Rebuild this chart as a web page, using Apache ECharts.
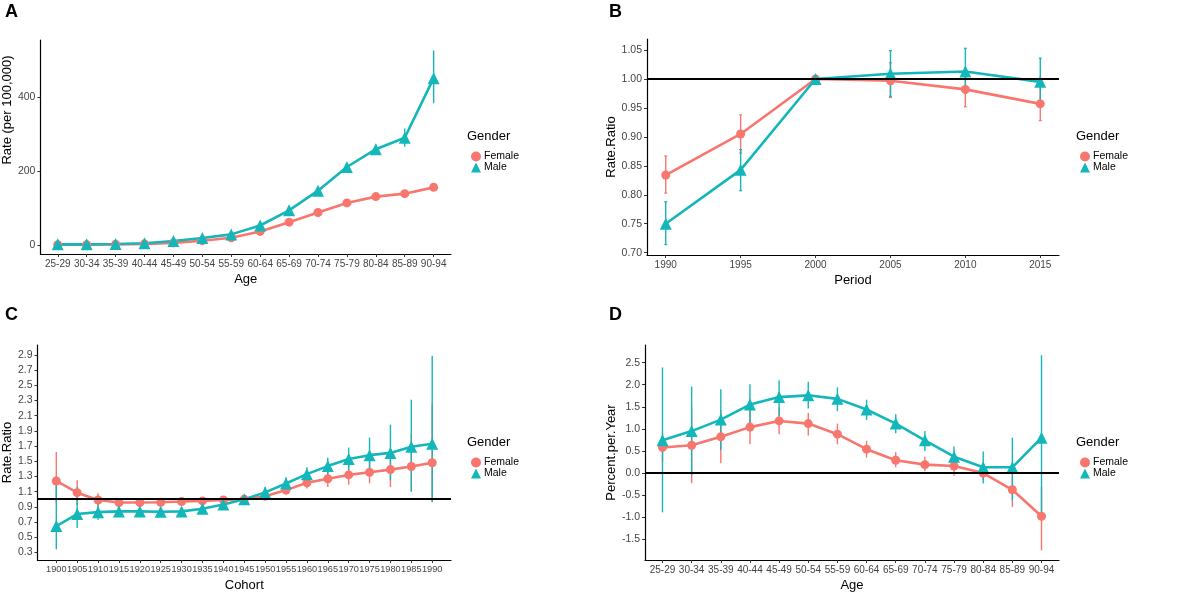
<!DOCTYPE html>
<html>
    <head>
        <meta charset=utf-8>
        <script src="https://cdn.jsdelivr.net/npm/echarts@6/dist/echarts.min.js"></script>
    </head>
    <body style="margin:0;background:#fff">
        <div id="chart" style="width:1200px;height:594px"></div>
        <script type="text/javascript">

            // A: age effect
            let ageLabels = ['25-29','30-34','35-39','40-44','45-49','50-54','55-59','60-64','65-69','70-74','75-79','80-84','85-89','90-94']
            let rateFemale   = [1, 1, 2, 3, 6, 12, 20, 37, 62, 88, 114, 131, 139, 156]
            let rateFemaleLo = [0, 0, 1, 2, 5, 10, 18, 34, 58, 83, 109, 125, 132, 147]
            let rateFemaleHi = [2, 2, 3, 4, 7, 14, 22, 40, 66, 93, 119, 137, 146, 165]
            let rateMale     = [2, 2, 3, 5, 11, 19, 29, 53, 94, 147, 211, 259, 290, 451]
            let rateMaleLo   = [1, 1, 2, 4, 9, 16, 26, 49, 88, 139, 201, 246, 266, 383]
            let rateMaleHi   = [3, 3, 4, 6, 13, 22, 32, 57, 100, 155, 221, 272, 315, 526]
            let rateTicks = [0, 200, 400]

            // B: period effect
            let periods = [1990, 1995, 2000, 2005, 2010, 2015]
            let prdFemale   = [0.834, 0.905, 1.0, 0.997, 0.982, 0.957]
            let prdFemaleLo = [0.803, 0.872, 1.0, 0.968, 0.952, 0.928]
            let prdFemaleHi = [0.867, 0.938, 1.0, 1.028, 1.012, 0.988]
            let prdMale     = [0.750, 0.843, 1.0, 1.009, 1.013, 0.995]
            let prdMaleLo   = [0.714, 0.807, 1.0, 0.970, 0.975, 0.955]
            let prdMaleHi   = [0.788, 0.878, 1.0, 1.049, 1.053, 1.036]
            let prdTicks = [0.70, 0.75, 0.80, 0.85, 0.90, 0.95, 1.00, 1.05]

            // C: cohort effect
            let cohorts = [1900,1905,1910,1915,1920,1925,1930,1935,1940,1945,1950,1955,1960,1965,1970,1975,1980,1985,1990]
            let cohFemale   = [1.24, 1.086, 0.99, 0.957, 0.957, 0.96, 0.97, 0.978, 0.99, 1.0, 1.04, 1.12, 1.216, 1.27, 1.32, 1.354, 1.39, 1.43, 1.48]
            let cohFemaleLo = [0.95, 0.93, 0.90, 0.92, 0.93, 0.93, 0.94, 0.95, 0.97, 1.0, 1.0, 1.06, 1.14, 1.16, 1.19, 1.21, 1.16, 1.10, 0.97]
            let cohFemaleHi = [1.62, 1.25, 1.08, 0.99, 0.99, 0.99, 1.0, 1.01, 1.01, 1.0, 1.08, 1.18, 1.31, 1.40, 1.47, 1.53, 1.67, 1.86, 2.25]
            let cohMale     = [0.646, 0.805, 0.83, 0.84, 0.84, 0.835, 0.84, 0.874, 0.93, 1.0, 1.09, 1.207, 1.33, 1.436, 1.53, 1.58, 1.61, 1.69, 1.73]
            let cohMaleLo   = [0.34, 0.62, 0.73, 0.78, 0.79, 0.79, 0.80, 0.84, 0.90, 1.0, 1.03, 1.13, 1.23, 1.31, 1.38, 1.38, 1.25, 1.10, 0.96]
            let cohMaleHi   = [1.25, 1.16, 1.03, 0.90, 0.89, 0.88, 0.88, 0.91, 0.96, 1.0, 1.16, 1.29, 1.42, 1.55, 1.68, 1.81, 1.98, 2.31, 2.89]
            let cohTicks = [0.3, 0.5, 0.7, 0.9, 1.1, 1.3, 1.5, 1.7, 1.9, 2.1, 2.3, 2.5, 2.7, 2.9]

            // D: local drifts
            let apcFemale   = [0.58, 0.63, 0.82, 1.04, 1.18, 1.12, 0.88, 0.54, 0.29, 0.19, 0.16, 0.0, -0.38, -0.98]
            let apcFemaleLo = [0.25, -0.23, 0.22, 0.65, 0.88, 0.85, 0.65, 0.35, 0.13, 0.04, -0.06, -0.15, -0.77, -1.75]
            let apcFemaleHi = [0.90, 1.49, 1.42, 1.43, 1.48, 1.36, 1.12, 0.73, 0.47, 0.37, 0.28, 0.15, -0.09, -0.32]
            let apcMale     = [0.74, 0.95, 1.21, 1.55, 1.72, 1.76, 1.68, 1.44, 1.12, 0.74, 0.37, 0.13, 0.13, 0.80]
            let apcMaleLo   = [-0.89, -0.05, 0.52, 1.05, 1.29, 1.46, 1.40, 1.20, 0.90, 0.50, 0.13, -0.24, -0.62, -1.0]
            let apcMaleHi   = [2.39, 1.96, 1.90, 2.01, 2.10, 2.07, 1.94, 1.66, 1.33, 0.95, 0.60, 0.49, 0.80, 2.67]
            let apcTicks = [-1.5, -1.0, -0.5, 0.0, 0.5, 1.0, 1.5, 2.0, 2.5]

            let femaleColor = '#F8766D'
            let maleColor = '#13B7BA'
            let ageIdx = ageLabels.map((d, i) => i)

            var myChart = echarts.init(document.querySelector('#chart'));

            function xAxisOf(idx, name, min, max, ticks, fmt, fontSize) {
                return {
                    type: 'value', gridIndex: idx, min: min, max: max,
                    name: name, nameLocation: 'middle', nameGap: 19,
                    nameTextStyle: {color: '#000', fontSize: 13, fontFamily: 'Liberation Sans'},
                    axisLine: {onZero: false, lineStyle: {color: '#000', width: 1.2}},
                    axisTick: {show: true, length: 3, lineStyle: {color: '#333'}, customValues: ticks},
                    axisLabel: {customValues: ticks, formatter: fmt, color: '#444',
                        fontSize: fontSize || 10, margin: 5, fontFamily: 'Liberation Sans',
                        hideOverlap: false, showMinLabel: true, showMaxLabel: true},
                    splitLine: {show: false}
                }
            }
            function yAxisOf(idx, name, gap, min, max, ticks, fmt, shift) {
                return {
                    type: 'value', gridIndex: idx, min: min, max: max,
                    name: name, nameLocation: 'middle', nameGap: gap,
                    nameTextStyle: {color: '#000', fontSize: 13, fontFamily: 'Liberation Sans',
                        padding: [0, 0, 0, shift || 0]},
                    axisLine: {show: true, onZero: false, lineStyle: {color: '#000', width: 1.2}},
                    axisTick: {show: true, length: 3, lineStyle: {color: '#333'}, customValues: ticks},
                    axisLabel: {customValues: ticks, formatter: fmt, color: '#444',
                        fontSize: 10.5, margin: 5, fontFamily: 'Liberation Sans',
                        showMinLabel: true, showMaxLabel: true},
                    splitLine: {show: false}
                }
            }
            function lineOf(idx, name, xs, ys, color, symbol, size) {
                return {
                    type: 'line', name: name, xAxisIndex: idx, yAxisIndex: idx,
                    data: xs.map((x, i) => [x, ys[i]]),
                    symbol: symbol, symbolSize: size, showSymbol: true,
                    lineStyle: {color: color, width: 2.6},
                    itemStyle: {color: color},
                    z: 3, silent: true
                }
            }
            function errOf(idx, name, xs, lo, hi, color, cap) {
                return {
                    type: 'custom', name: name, xAxisIndex: idx, yAxisIndex: idx,
                    data: xs.map((x, i) => [x, lo[i], hi[i]]),
                    encode: {x: 0, y: [1, 2]},
                    z: 2, silent: true,
                    renderItem: function(params, api) {
                        let a = api.coord([api.value(0), api.value(1)])
                        let b = api.coord([api.value(0), api.value(2)])
                        let kids = [{type: 'line', shape: {x1: a[0], y1: a[1], x2: b[0], y2: b[1]},
                            style: {stroke: color, lineWidth: 1.4}}]
                        if (cap) {
                            kids.push({type: 'line', shape: {x1: a[0]-cap, y1: a[1], x2: a[0]+cap, y2: a[1]}, style: {stroke: color, lineWidth: 1.2}})
                            kids.push({type: 'line', shape: {x1: b[0]-cap, y1: b[1], x2: b[0]+cap, y2: b[1]}, style: {stroke: color, lineWidth: 1.2}})
                        }
                        return {type: 'group', children: kids}
                    }
                }
            }
            function refOf(idx, y) {
                return {
                    type: 'line', name: 'ref' + idx, xAxisIndex: idx, yAxisIndex: idx, data: [],
                    z: 2,
                    markLine: {silent: true, symbol: 'none', label: {show: false},
                        lineStyle: {color: '#000', type: 'solid', width: 2.2},
                        data: [{yAxis: y}]}
                }
            }
            function legendOf(left, top) {
                return {
                    left: left, top: top, orient: 'vertical', itemGap: 0,
                    itemWidth: 10, itemHeight: 10, selectedMode: false,
                    textStyle: {fontSize: 10.5, color: '#000', fontFamily: 'Liberation Sans', padding: [0, 0, 0, -2]},
                    data: [{name: 'Female', icon: 'circle'}, {name: 'Male', icon: 'triangle'}]
                }
            }
            let titleStyle = {fontSize: 18, fontWeight: 'bold', color: '#000', fontFamily: 'Liberation Sans'}
            let genderStyle = {fontSize: 13, fontWeight: 'normal', color: '#000', fontFamily: 'Liberation Sans'}

            let ageFmt = v => ageLabels[Math.round(v)]

            let option = {
                animation: false,
                title: [
                    {text: 'A', left: 0, top: -2, textStyle: titleStyle},
                    {text: 'B', left: 604, top: -2, textStyle: titleStyle},
                    {text: 'C', left: 0, top: 301, textStyle: titleStyle},
                    {text: 'D', left: 604, top: 301, textStyle: titleStyle},
                    {text: 'Gender', left: 462, top: 125, textStyle: genderStyle},
                    {text: 'Gender', left: 1071, top: 125, textStyle: genderStyle},
                    {text: 'Gender', left: 462, top: 431, textStyle: genderStyle},
                    {text: 'Gender', left: 1071, top: 431, textStyle: genderStyle}
                ],
                legend: [
                    legendOf(466, 146),
                    legendOf(1075, 146),
                    legendOf(466, 452),
                    legendOf(1075, 452)
                ],
                grid: [
                    {left: 36, top: 40, width: 415, height: 214},
                    {left: 647, top: 39, width: 412, height: 216},
                    {left: 33, top: 345, width: 418, height: 215},
                    {left: 645, top: 345, width: 414, height: 215}
                ],
                xAxis: [
                    xAxisOf(0, 'Age', -0.6, 13.6, ageIdx, ageFmt),
                    xAxisOf(1, 'Period', 1988.75, 2016.25, periods, v => v),
                    xAxisOf(2, 'Cohort', 1895.5, 1994.5, cohorts, v => v, 9.2),
                    xAxisOf(3, 'Age', -0.6, 13.6, ageIdx, ageFmt)
                ],
                yAxis: [
                    yAxisOf(0, 'Rate (per 100,000)', 25, -24, 554, rateTicks, v => v, 74),
                    yAxisOf(1, 'Rate.Ratio', 28, 0.696, 1.069, prdTicks, v => v.toFixed(2)),
                    yAxisOf(2, 'Rate.Ratio', 21, 0.2, 3.03, cohTicks, v => v.toFixed(1)),
                    yAxisOf(3, 'Percent.per.Year', 25, -1.97, 2.9, apcTicks, v => v.toFixed(1))
                ],
                series: [
                    errOf(0, 'Female CI', ageIdx, rateFemaleLo, rateFemaleHi, femaleColor),
                    errOf(0, 'Male CI', ageIdx, rateMaleLo, rateMaleHi, maleColor),
                    lineOf(0, 'Female', ageIdx, rateFemale, femaleColor, 'circle', 9),
                    lineOf(0, 'Male', ageIdx, rateMale, maleColor, 'triangle', 12),

                    refOf(1, 1.0),
                    errOf(1, 'Female CI', periods, prdFemaleLo, prdFemaleHi, femaleColor, 1.5),
                    errOf(1, 'Male CI', periods, prdMaleLo, prdMaleHi, maleColor, 1.5),
                    lineOf(1, 'Female', periods, prdFemale, femaleColor, 'circle', 9),
                    lineOf(1, 'Male', periods, prdMale, maleColor, 'triangle', 12),

                    refOf(2, 1.0),
                    errOf(2, 'Female CI', cohorts, cohFemaleLo, cohFemaleHi, femaleColor),
                    errOf(2, 'Male CI', cohorts, cohMaleLo, cohMaleHi, maleColor),
                    lineOf(2, 'Female', cohorts, cohFemale, femaleColor, 'circle', 9),
                    lineOf(2, 'Male', cohorts, cohMale, maleColor, 'triangle', 12),

                    refOf(3, 0.0),
                    errOf(3, 'Female CI', ageIdx, apcFemaleLo, apcFemaleHi, femaleColor),
                    errOf(3, 'Male CI', ageIdx, apcMaleLo, apcMaleHi, maleColor),
                    lineOf(3, 'Female', ageIdx, apcFemale, femaleColor, 'circle', 9),
                    lineOf(3, 'Male', ageIdx, apcMale, maleColor, 'triangle', 12)
                ]
            }
            myChart.setOption(option);
        </script>
    </body>
</html>
